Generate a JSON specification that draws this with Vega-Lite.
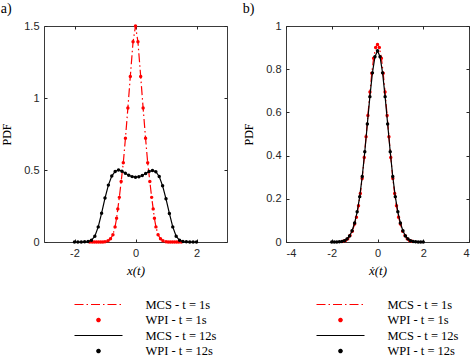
{
  "$schema": "https://vega.github.io/schema/vega-lite/v6.json",
  "padding": {"left": 0, "top": 1, "right": 2, "bottom": 0},
  "spacing": 14,
  "config": {
    "font": "Liberation Sans",
    "view": {"stroke": "#3a3a3a", "strokeWidth": 1},
    "axis": {"grid": false, "domain": false, "labelFont": "Liberation Sans", "labelFontSize": 11, "labelColor": "#262626", "tickColor": "#262626", "tickSize": -3, "labelPadding": 8, "titleFont": "Liberation Serif", "titleFontWeight": "normal", "titleFontSize": 12, "titleColor": "#000"},
    "axisX": {"titleFontStyle": "italic", "titleFontSize": 13, "titlePadding": 6},
    "axisY": {"titlePadding": 10},
    "title": {"font": "Liberation Serif", "fontSize": 14, "fontWeight": "normal", "anchor": "start", "frame": "bounds", "offset": 4, "color": "#000"},
    "legend": {"title": null, "orient": "none", "legendX": 30, "legendY": 271.5, "direction": "vertical", "symbolSize": 144, "symbolOffset": 17.5, "labelOffset": 40, "rowPadding": 1.5, "padding": 0, "labelFont": "Liberation Serif", "labelFontSize": 12.5, "labelColor": "#000", "symbolStrokeWidth": 1.2}
  },
  "datasets": {
    "a": [
      {"series": "MCS - t = 1s", "x": -1.5, "y": 0}, {"series": "MCS - t = 1s", "x": -1.42, "y": 0}, {"series": "MCS - t = 1s", "x": -1.35, "y": 0}, {"series": "MCS - t = 1s", "x": -1.28, "y": 0}, {"series": "MCS - t = 1s", "x": -1.21, "y": 0}, {"series": "MCS - t = 1s", "x": -1.14, "y": 0}, {"series": "MCS - t = 1s", "x": -1.07, "y": 0}, {"series": "MCS - t = 1s", "x": -1.0, "y": 0.002}, {"series": "MCS - t = 1s", "x": -0.9, "y": 0.008}, {"series": "MCS - t = 1s", "x": -0.82, "y": 0.022}, {"series": "MCS - t = 1s", "x": -0.74, "y": 0.05}, {"series": "MCS - t = 1s", "x": -0.67, "y": 0.105}, {"series": "MCS - t = 1s", "x": -0.62, "y": 0.165}, {"series": "MCS - t = 1s", "x": -0.58, "y": 0.23}, {"series": "MCS - t = 1s", "x": -0.53, "y": 0.31}, {"series": "MCS - t = 1s", "x": -0.47, "y": 0.42}, {"series": "MCS - t = 1s", "x": -0.4, "y": 0.55}, {"series": "MCS - t = 1s", "x": -0.33, "y": 0.72}, {"series": "MCS - t = 1s", "x": -0.25, "y": 0.93}, {"series": "MCS - t = 1s", "x": -0.17, "y": 1.15}, {"series": "MCS - t = 1s", "x": -0.08, "y": 1.39}, {"series": "MCS - t = 1s", "x": 0, "y": 1.5}, {"series": "MCS - t = 1s", "x": 0.08, "y": 1.39}, {"series": "MCS - t = 1s", "x": 0.17, "y": 1.15}, {"series": "MCS - t = 1s", "x": 0.25, "y": 0.93}, {"series": "MCS - t = 1s", "x": 0.33, "y": 0.72}, {"series": "MCS - t = 1s", "x": 0.4, "y": 0.55}, {"series": "MCS - t = 1s", "x": 0.47, "y": 0.42}, {"series": "MCS - t = 1s", "x": 0.53, "y": 0.31}, {"series": "MCS - t = 1s", "x": 0.58, "y": 0.23}, {"series": "MCS - t = 1s", "x": 0.62, "y": 0.165}, {"series": "MCS - t = 1s", "x": 0.67, "y": 0.105}, {"series": "MCS - t = 1s", "x": 0.74, "y": 0.05}, {"series": "MCS - t = 1s", "x": 0.82, "y": 0.022}, {"series": "MCS - t = 1s", "x": 0.9, "y": 0.008}, {"series": "MCS - t = 1s", "x": 1.0, "y": 0.002}, {"series": "MCS - t = 1s", "x": 1.07, "y": 0}, {"series": "MCS - t = 1s", "x": 1.14, "y": 0}, {"series": "MCS - t = 1s", "x": 1.21, "y": 0}, {"series": "MCS - t = 1s", "x": 1.28, "y": 0}, {"series": "MCS - t = 1s", "x": 1.35, "y": 0}, {"series": "MCS - t = 1s", "x": 1.42, "y": 0}, {"series": "MCS - t = 1s", "x": 1.5, "y": 0},
      {"series": "WPI - t = 1s", "x": -1.5, "y": 0}, {"series": "WPI - t = 1s", "x": -1.42, "y": 0}, {"series": "WPI - t = 1s", "x": -1.35, "y": 0}, {"series": "WPI - t = 1s", "x": -1.28, "y": 0}, {"series": "WPI - t = 1s", "x": -1.21, "y": 0}, {"series": "WPI - t = 1s", "x": -1.14, "y": 0}, {"series": "WPI - t = 1s", "x": -1.07, "y": 0}, {"series": "WPI - t = 1s", "x": -1.0, "y": 0.002}, {"series": "WPI - t = 1s", "x": -0.9, "y": 0.008}, {"series": "WPI - t = 1s", "x": -0.82, "y": 0.022}, {"series": "WPI - t = 1s", "x": -0.74, "y": 0.05}, {"series": "WPI - t = 1s", "x": -0.67, "y": 0.105}, {"series": "WPI - t = 1s", "x": -0.62, "y": 0.165}, {"series": "WPI - t = 1s", "x": -0.58, "y": 0.23}, {"series": "WPI - t = 1s", "x": -0.53, "y": 0.31}, {"series": "WPI - t = 1s", "x": -0.47, "y": 0.42}, {"series": "WPI - t = 1s", "x": -0.4, "y": 0.55}, {"series": "WPI - t = 1s", "x": -0.33, "y": 0.72}, {"series": "WPI - t = 1s", "x": -0.25, "y": 0.93}, {"series": "WPI - t = 1s", "x": -0.17, "y": 1.15}, {"series": "WPI - t = 1s", "x": -0.08, "y": 1.39}, {"series": "WPI - t = 1s", "x": 0, "y": 1.5}, {"series": "WPI - t = 1s", "x": 0.08, "y": 1.39}, {"series": "WPI - t = 1s", "x": 0.17, "y": 1.15}, {"series": "WPI - t = 1s", "x": 0.25, "y": 0.93}, {"series": "WPI - t = 1s", "x": 0.33, "y": 0.72}, {"series": "WPI - t = 1s", "x": 0.4, "y": 0.55}, {"series": "WPI - t = 1s", "x": 0.47, "y": 0.42}, {"series": "WPI - t = 1s", "x": 0.53, "y": 0.31}, {"series": "WPI - t = 1s", "x": 0.58, "y": 0.23}, {"series": "WPI - t = 1s", "x": 0.62, "y": 0.165}, {"series": "WPI - t = 1s", "x": 0.67, "y": 0.105}, {"series": "WPI - t = 1s", "x": 0.74, "y": 0.05}, {"series": "WPI - t = 1s", "x": 0.82, "y": 0.022}, {"series": "WPI - t = 1s", "x": 0.9, "y": 0.008}, {"series": "WPI - t = 1s", "x": 1.0, "y": 0.002}, {"series": "WPI - t = 1s", "x": 1.07, "y": 0}, {"series": "WPI - t = 1s", "x": 1.14, "y": 0}, {"series": "WPI - t = 1s", "x": 1.21, "y": 0}, {"series": "WPI - t = 1s", "x": 1.28, "y": 0}, {"series": "WPI - t = 1s", "x": 1.35, "y": 0}, {"series": "WPI - t = 1s", "x": 1.42, "y": 0}, {"series": "WPI - t = 1s", "x": 1.5, "y": 0},
      {"series": "MCS - t = 12s", "x": -2, "y": 0}, {"series": "MCS - t = 12s", "x": -1.889, "y": 0}, {"series": "MCS - t = 12s", "x": -1.778, "y": 0}, {"series": "MCS - t = 12s", "x": -1.667, "y": 0.001}, {"series": "MCS - t = 12s", "x": -1.556, "y": 0.003}, {"series": "MCS - t = 12s", "x": -1.444, "y": 0.012}, {"series": "MCS - t = 12s", "x": -1.333, "y": 0.04}, {"series": "MCS - t = 12s", "x": -1.222, "y": 0.105}, {"series": "MCS - t = 12s", "x": -1.111, "y": 0.2}, {"series": "MCS - t = 12s", "x": -1.0, "y": 0.305}, {"series": "MCS - t = 12s", "x": -0.889, "y": 0.395}, {"series": "MCS - t = 12s", "x": -0.778, "y": 0.458}, {"series": "MCS - t = 12s", "x": -0.667, "y": 0.49}, {"series": "MCS - t = 12s", "x": -0.556, "y": 0.5}, {"series": "MCS - t = 12s", "x": -0.444, "y": 0.492}, {"series": "MCS - t = 12s", "x": -0.333, "y": 0.477}, {"series": "MCS - t = 12s", "x": -0.222, "y": 0.463}, {"series": "MCS - t = 12s", "x": -0.111, "y": 0.454}, {"series": "MCS - t = 12s", "x": 0, "y": 0.45}, {"series": "MCS - t = 12s", "x": 0.111, "y": 0.453}, {"series": "MCS - t = 12s", "x": 0.222, "y": 0.462}, {"series": "MCS - t = 12s", "x": 0.333, "y": 0.476}, {"series": "MCS - t = 12s", "x": 0.444, "y": 0.49}, {"series": "MCS - t = 12s", "x": 0.556, "y": 0.497}, {"series": "MCS - t = 12s", "x": 0.667, "y": 0.488}, {"series": "MCS - t = 12s", "x": 0.778, "y": 0.455}, {"series": "MCS - t = 12s", "x": 0.889, "y": 0.39}, {"series": "MCS - t = 12s", "x": 1.0, "y": 0.3}, {"series": "MCS - t = 12s", "x": 1.111, "y": 0.198}, {"series": "MCS - t = 12s", "x": 1.222, "y": 0.105}, {"series": "MCS - t = 12s", "x": 1.333, "y": 0.04}, {"series": "MCS - t = 12s", "x": 1.444, "y": 0.012}, {"series": "MCS - t = 12s", "x": 1.556, "y": 0.003}, {"series": "MCS - t = 12s", "x": 1.667, "y": 0.001}, {"series": "MCS - t = 12s", "x": 1.778, "y": 0}, {"series": "MCS - t = 12s", "x": 1.889, "y": 0}, {"series": "MCS - t = 12s", "x": 2, "y": 0},
      {"series": "WPI - t = 12s", "x": -2, "y": 0}, {"series": "WPI - t = 12s", "x": -1.889, "y": 0}, {"series": "WPI - t = 12s", "x": -1.778, "y": 0}, {"series": "WPI - t = 12s", "x": -1.667, "y": 0.001}, {"series": "WPI - t = 12s", "x": -1.556, "y": 0.003}, {"series": "WPI - t = 12s", "x": -1.444, "y": 0.012}, {"series": "WPI - t = 12s", "x": -1.333, "y": 0.04}, {"series": "WPI - t = 12s", "x": -1.222, "y": 0.105}, {"series": "WPI - t = 12s", "x": -1.111, "y": 0.2}, {"series": "WPI - t = 12s", "x": -1.0, "y": 0.305}, {"series": "WPI - t = 12s", "x": -0.889, "y": 0.395}, {"series": "WPI - t = 12s", "x": -0.778, "y": 0.458}, {"series": "WPI - t = 12s", "x": -0.667, "y": 0.49}, {"series": "WPI - t = 12s", "x": -0.556, "y": 0.5}, {"series": "WPI - t = 12s", "x": -0.444, "y": 0.492}, {"series": "WPI - t = 12s", "x": -0.333, "y": 0.477}, {"series": "WPI - t = 12s", "x": -0.222, "y": 0.463}, {"series": "WPI - t = 12s", "x": -0.111, "y": 0.454}, {"series": "WPI - t = 12s", "x": 0, "y": 0.45}, {"series": "WPI - t = 12s", "x": 0.111, "y": 0.453}, {"series": "WPI - t = 12s", "x": 0.222, "y": 0.462}, {"series": "WPI - t = 12s", "x": 0.333, "y": 0.476}, {"series": "WPI - t = 12s", "x": 0.444, "y": 0.49}, {"series": "WPI - t = 12s", "x": 0.556, "y": 0.497}, {"series": "WPI - t = 12s", "x": 0.667, "y": 0.488}, {"series": "WPI - t = 12s", "x": 0.778, "y": 0.455}, {"series": "WPI - t = 12s", "x": 0.889, "y": 0.39}, {"series": "WPI - t = 12s", "x": 1.0, "y": 0.3}, {"series": "WPI - t = 12s", "x": 1.111, "y": 0.198}, {"series": "WPI - t = 12s", "x": 1.222, "y": 0.105}, {"series": "WPI - t = 12s", "x": 1.333, "y": 0.04}, {"series": "WPI - t = 12s", "x": 1.444, "y": 0.012}, {"series": "WPI - t = 12s", "x": 1.556, "y": 0.003}, {"series": "WPI - t = 12s", "x": 1.667, "y": 0.001}, {"series": "WPI - t = 12s", "x": 1.778, "y": 0}, {"series": "WPI - t = 12s", "x": 1.889, "y": 0}, {"series": "WPI - t = 12s", "x": 2, "y": 0}
    ],
    "b": [
      {"series": "MCS - t = 1s", "x": -1.5, "y": 0.003}, {"series": "MCS - t = 1s", "x": -1.4, "y": 0.007}, {"series": "MCS - t = 1s", "x": -1.3, "y": 0.015}, {"series": "MCS - t = 1s", "x": -1.2, "y": 0.03}, {"series": "MCS - t = 1s", "x": -1.1, "y": 0.05}, {"series": "MCS - t = 1s", "x": -1.0, "y": 0.083}, {"series": "MCS - t = 1s", "x": -0.92, "y": 0.115}, {"series": "MCS - t = 1s", "x": -0.83, "y": 0.168}, {"series": "MCS - t = 1s", "x": -0.75, "y": 0.225}, {"series": "MCS - t = 1s", "x": -0.67, "y": 0.294}, {"series": "MCS - t = 1s", "x": -0.58, "y": 0.391}, {"series": "MCS - t = 1s", "x": -0.5, "y": 0.487}, {"series": "MCS - t = 1s", "x": -0.42, "y": 0.586}, {"series": "MCS - t = 1s", "x": -0.33, "y": 0.695}, {"series": "MCS - t = 1s", "x": -0.25, "y": 0.781}, {"series": "MCS - t = 1s", "x": -0.17, "y": 0.851}, {"series": "MCS - t = 1s", "x": -0.08, "y": 0.9}, {"series": "MCS - t = 1s", "x": 0, "y": 0.915}, {"series": "MCS - t = 1s", "x": 0.08, "y": 0.9}, {"series": "MCS - t = 1s", "x": 0.17, "y": 0.851}, {"series": "MCS - t = 1s", "x": 0.25, "y": 0.781}, {"series": "MCS - t = 1s", "x": 0.33, "y": 0.695}, {"series": "MCS - t = 1s", "x": 0.42, "y": 0.586}, {"series": "MCS - t = 1s", "x": 0.5, "y": 0.487}, {"series": "MCS - t = 1s", "x": 0.58, "y": 0.391}, {"series": "MCS - t = 1s", "x": 0.67, "y": 0.294}, {"series": "MCS - t = 1s", "x": 0.75, "y": 0.225}, {"series": "MCS - t = 1s", "x": 0.83, "y": 0.168}, {"series": "MCS - t = 1s", "x": 0.92, "y": 0.115}, {"series": "MCS - t = 1s", "x": 1.0, "y": 0.083}, {"series": "MCS - t = 1s", "x": 1.1, "y": 0.05}, {"series": "MCS - t = 1s", "x": 1.2, "y": 0.03}, {"series": "MCS - t = 1s", "x": 1.3, "y": 0.015}, {"series": "MCS - t = 1s", "x": 1.4, "y": 0.007}, {"series": "MCS - t = 1s", "x": 1.5, "y": 0.003},
      {"series": "WPI - t = 1s", "x": -1.5, "y": 0.003}, {"series": "WPI - t = 1s", "x": -1.4, "y": 0.007}, {"series": "WPI - t = 1s", "x": -1.3, "y": 0.015}, {"series": "WPI - t = 1s", "x": -1.2, "y": 0.03}, {"series": "WPI - t = 1s", "x": -1.1, "y": 0.05}, {"series": "WPI - t = 1s", "x": -1.0, "y": 0.083}, {"series": "WPI - t = 1s", "x": -0.92, "y": 0.115}, {"series": "WPI - t = 1s", "x": -0.83, "y": 0.168}, {"series": "WPI - t = 1s", "x": -0.75, "y": 0.225}, {"series": "WPI - t = 1s", "x": -0.67, "y": 0.294}, {"series": "WPI - t = 1s", "x": -0.58, "y": 0.391}, {"series": "WPI - t = 1s", "x": -0.5, "y": 0.487}, {"series": "WPI - t = 1s", "x": -0.42, "y": 0.586}, {"series": "WPI - t = 1s", "x": -0.33, "y": 0.695}, {"series": "WPI - t = 1s", "x": -0.25, "y": 0.781}, {"series": "WPI - t = 1s", "x": -0.17, "y": 0.851}, {"series": "WPI - t = 1s", "x": -0.08, "y": 0.9}, {"series": "WPI - t = 1s", "x": 0, "y": 0.915}, {"series": "WPI - t = 1s", "x": 0.08, "y": 0.9}, {"series": "WPI - t = 1s", "x": 0.17, "y": 0.851}, {"series": "WPI - t = 1s", "x": 0.25, "y": 0.781}, {"series": "WPI - t = 1s", "x": 0.33, "y": 0.695}, {"series": "WPI - t = 1s", "x": 0.42, "y": 0.586}, {"series": "WPI - t = 1s", "x": 0.5, "y": 0.487}, {"series": "WPI - t = 1s", "x": 0.58, "y": 0.391}, {"series": "WPI - t = 1s", "x": 0.67, "y": 0.294}, {"series": "WPI - t = 1s", "x": 0.75, "y": 0.225}, {"series": "WPI - t = 1s", "x": 0.83, "y": 0.168}, {"series": "WPI - t = 1s", "x": 0.92, "y": 0.115}, {"series": "WPI - t = 1s", "x": 1.0, "y": 0.083}, {"series": "WPI - t = 1s", "x": 1.1, "y": 0.05}, {"series": "WPI - t = 1s", "x": 1.2, "y": 0.03}, {"series": "WPI - t = 1s", "x": 1.3, "y": 0.015}, {"series": "WPI - t = 1s", "x": 1.4, "y": 0.007}, {"series": "WPI - t = 1s", "x": 1.5, "y": 0.003},
      {"series": "MCS - t = 12s", "x": -2, "y": 0}, {"series": "MCS - t = 12s", "x": -1.889, "y": 0}, {"series": "MCS - t = 12s", "x": -1.778, "y": 0}, {"series": "MCS - t = 12s", "x": -1.667, "y": 0.001}, {"series": "MCS - t = 12s", "x": -1.556, "y": 0.002}, {"series": "MCS - t = 12s", "x": -1.444, "y": 0.006}, {"series": "MCS - t = 12s", "x": -1.333, "y": 0.014}, {"series": "MCS - t = 12s", "x": -1.222, "y": 0.028}, {"series": "MCS - t = 12s", "x": -1.111, "y": 0.052}, {"series": "MCS - t = 12s", "x": -1.0, "y": 0.088}, {"series": "MCS - t = 12s", "x": -0.889, "y": 0.14}, {"series": "MCS - t = 12s", "x": -0.778, "y": 0.21}, {"series": "MCS - t = 12s", "x": -0.667, "y": 0.303}, {"series": "MCS - t = 12s", "x": -0.556, "y": 0.418}, {"series": "MCS - t = 12s", "x": -0.444, "y": 0.546}, {"series": "MCS - t = 12s", "x": -0.333, "y": 0.673}, {"series": "MCS - t = 12s", "x": -0.222, "y": 0.783}, {"series": "MCS - t = 12s", "x": -0.111, "y": 0.858}, {"series": "MCS - t = 12s", "x": 0, "y": 0.885}, {"series": "MCS - t = 12s", "x": 0.111, "y": 0.858}, {"series": "MCS - t = 12s", "x": 0.222, "y": 0.783}, {"series": "MCS - t = 12s", "x": 0.333, "y": 0.673}, {"series": "MCS - t = 12s", "x": 0.444, "y": 0.546}, {"series": "MCS - t = 12s", "x": 0.556, "y": 0.418}, {"series": "MCS - t = 12s", "x": 0.667, "y": 0.303}, {"series": "MCS - t = 12s", "x": 0.778, "y": 0.21}, {"series": "MCS - t = 12s", "x": 0.889, "y": 0.14}, {"series": "MCS - t = 12s", "x": 1.0, "y": 0.088}, {"series": "MCS - t = 12s", "x": 1.111, "y": 0.052}, {"series": "MCS - t = 12s", "x": 1.222, "y": 0.028}, {"series": "MCS - t = 12s", "x": 1.333, "y": 0.014}, {"series": "MCS - t = 12s", "x": 1.444, "y": 0.006}, {"series": "MCS - t = 12s", "x": 1.556, "y": 0.002}, {"series": "MCS - t = 12s", "x": 1.667, "y": 0.001}, {"series": "MCS - t = 12s", "x": 1.778, "y": 0}, {"series": "MCS - t = 12s", "x": 1.889, "y": 0}, {"series": "MCS - t = 12s", "x": 2, "y": 0},
      {"series": "WPI - t = 12s", "x": -2, "y": 0}, {"series": "WPI - t = 12s", "x": -1.889, "y": 0}, {"series": "WPI - t = 12s", "x": -1.778, "y": 0}, {"series": "WPI - t = 12s", "x": -1.667, "y": 0.001}, {"series": "WPI - t = 12s", "x": -1.556, "y": 0.002}, {"series": "WPI - t = 12s", "x": -1.444, "y": 0.006}, {"series": "WPI - t = 12s", "x": -1.333, "y": 0.014}, {"series": "WPI - t = 12s", "x": -1.222, "y": 0.028}, {"series": "WPI - t = 12s", "x": -1.111, "y": 0.052}, {"series": "WPI - t = 12s", "x": -1.0, "y": 0.088}, {"series": "WPI - t = 12s", "x": -0.889, "y": 0.14}, {"series": "WPI - t = 12s", "x": -0.778, "y": 0.21}, {"series": "WPI - t = 12s", "x": -0.667, "y": 0.303}, {"series": "WPI - t = 12s", "x": -0.556, "y": 0.418}, {"series": "WPI - t = 12s", "x": -0.444, "y": 0.546}, {"series": "WPI - t = 12s", "x": -0.333, "y": 0.673}, {"series": "WPI - t = 12s", "x": -0.222, "y": 0.783}, {"series": "WPI - t = 12s", "x": -0.111, "y": 0.858}, {"series": "WPI - t = 12s", "x": 0, "y": 0.885}, {"series": "WPI - t = 12s", "x": 0.111, "y": 0.858}, {"series": "WPI - t = 12s", "x": 0.222, "y": 0.783}, {"series": "WPI - t = 12s", "x": 0.333, "y": 0.673}, {"series": "WPI - t = 12s", "x": 0.444, "y": 0.546}, {"series": "WPI - t = 12s", "x": 0.556, "y": 0.418}, {"series": "WPI - t = 12s", "x": 0.667, "y": 0.303}, {"series": "WPI - t = 12s", "x": 0.778, "y": 0.21}, {"series": "WPI - t = 12s", "x": 0.889, "y": 0.14}, {"series": "WPI - t = 12s", "x": 1.0, "y": 0.088}, {"series": "WPI - t = 12s", "x": 1.111, "y": 0.052}, {"series": "WPI - t = 12s", "x": 1.222, "y": 0.028}, {"series": "WPI - t = 12s", "x": 1.333, "y": 0.014}, {"series": "WPI - t = 12s", "x": 1.444, "y": 0.006}, {"series": "WPI - t = 12s", "x": 1.556, "y": 0.002}, {"series": "WPI - t = 12s", "x": 1.667, "y": 0.001}, {"series": "WPI - t = 12s", "x": 1.778, "y": 0}, {"series": "WPI - t = 12s", "x": 1.889, "y": 0}, {"series": "WPI - t = 12s", "x": 2, "y": 0}
    ]
  },
  "resolve": {"scale": {"color": "independent"}, "legend": {"color": "independent"}},
  "hconcat": [
    {
      "title": {"text": "a)"},
      "width": 183, "height": 216,
      "data": {"name": "a"},
      "resolve": {"scale": {"x": "independent", "y": "independent"}},
      "layer": [
        {
          "encoding": {
            "x": {"field": "x", "type": "quantitative", "scale": {"domain": [-3, 3], "nice": false, "zero": false}, "axis": {"values": [-2, 0, 2], "labelExpr": "'' + datum.value", "title": "x(t)"}},
            "y": {"field": "y", "type": "quantitative", "scale": {"domain": [0, 1.5], "nice": false}, "axis": {"values": [0, 0.5, 1, 1.5], "labelExpr": "'' + datum.value", "title": "PDF"}},
            "color": {"field": "series", "type": "nominal", "scale": {"domain": ["MCS - t = 1s", "WPI - t = 1s", "MCS - t = 12s", "WPI - t = 12s"], "range": ["#ff0000", "#ff0000", "#000000", "#000000"]},
              "legend": {"encode": {"symbols": {"update": {
                "shape": {"signal": "indexof(datum.value, 'MCS') === 0 ? 'M-4,0H4' : 'M0.28,0A0.28,0.28,0,1,1,-0.28,0A0.28,0.28,0,1,1,0.28,0Z'"},
                "fill": {"signal": "indexof(datum.value, 'MCS') === 0 ? 'transparent' : (indexof(datum.value, '12s') > 0 ? '#000000' : '#ff0000')"},
                "stroke": {"signal": "indexof(datum.value, 'MCS') === 0 ? (indexof(datum.value, '12s') > 0 ? '#000000' : '#ff0000') : 'transparent'"},
                "strokeDash": {"signal": "datum.value === 'MCS - t = 1s' ? [9, 3, 1.5, 3] : [1, 0]"},
                "opacity": {"value": 1}
              }}}}}
          },
          "layer": [
            {"transform": [{"filter": "datum.series === 'MCS - t = 1s'"}], "mark": {"type": "line", "strokeDash": [9, 3, 1.5, 3], "strokeWidth": 1.2}},
            {"transform": [{"filter": "datum.series === 'WPI - t = 1s'"}], "mark": {"type": "point", "filled": true, "size": 12, "opacity": 1, "strokeWidth": 0}},
            {"transform": [{"filter": "datum.series === 'MCS - t = 12s'"}], "mark": {"type": "line", "strokeWidth": 1.2}},
            {"transform": [{"filter": "datum.series === 'WPI - t = 12s'"}], "mark": {"type": "point", "filled": true, "size": 12, "opacity": 1, "strokeWidth": 0}}
          ]
        },
        {
          "mark": {"type": "point", "opacity": 0},
          "encoding": {
            "x": {"field": "x", "type": "quantitative", "scale": {"domain": [-3, 3], "nice": false, "zero": false}, "axis": {"orient": "top", "values": [-2, 0, 2], "labels": false, "title": null}},
            "y": {"field": "y", "type": "quantitative", "scale": {"domain": [0, 1.5], "nice": false}, "axis": {"orient": "right", "values": [0, 0.5, 1, 1.5], "labels": false, "title": null}}
          }
        }
      ]
    },
    {
      "title": {"text": "b)"},
      "width": 183, "height": 216,
      "data": {"name": "b"},
      "resolve": {"scale": {"x": "independent", "y": "independent"}},
      "layer": [
        {
          "encoding": {
            "x": {"field": "x", "type": "quantitative", "scale": {"domain": [-4, 4], "nice": false, "zero": false}, "axis": {"values": [-4, -2, 0, 2, 4], "labelExpr": "'' + datum.value", "title": "ẋ(t)"}},
            "y": {"field": "y", "type": "quantitative", "scale": {"domain": [0, 1], "nice": false}, "axis": {"values": [0, 0.2, 0.4, 0.6, 0.8, 1], "labelExpr": "'' + datum.value", "title": "PDF"}},
            "color": {"field": "series", "type": "nominal", "scale": {"domain": ["MCS - t = 1s", "WPI - t = 1s", "MCS - t = 12s", "WPI - t = 12s"], "range": ["#ff0000", "#ff0000", "#000000", "#000000"]},
              "legend": {"encode": {"symbols": {"update": {
                "shape": {"signal": "indexof(datum.value, 'MCS') === 0 ? 'M-4,0H4' : 'M0.28,0A0.28,0.28,0,1,1,-0.28,0A0.28,0.28,0,1,1,0.28,0Z'"},
                "fill": {"signal": "indexof(datum.value, 'MCS') === 0 ? 'transparent' : (indexof(datum.value, '12s') > 0 ? '#000000' : '#ff0000')"},
                "stroke": {"signal": "indexof(datum.value, 'MCS') === 0 ? (indexof(datum.value, '12s') > 0 ? '#000000' : '#ff0000') : 'transparent'"},
                "strokeDash": {"signal": "datum.value === 'MCS - t = 1s' ? [9, 3, 1.5, 3] : [1, 0]"},
                "opacity": {"value": 1}
              }}}}}
          },
          "layer": [
            {"transform": [{"filter": "datum.series === 'MCS - t = 1s'"}], "mark": {"type": "line", "strokeDash": [9, 3, 1.5, 3], "strokeWidth": 1.2}},
            {"transform": [{"filter": "datum.series === 'WPI - t = 1s'"}], "mark": {"type": "point", "filled": true, "size": 12, "opacity": 1, "strokeWidth": 0}},
            {"transform": [{"filter": "datum.series === 'MCS - t = 12s'"}], "mark": {"type": "line", "strokeWidth": 1.2}},
            {"transform": [{"filter": "datum.series === 'WPI - t = 12s'"}], "mark": {"type": "point", "filled": true, "size": 12, "opacity": 1, "strokeWidth": 0}}
          ]
        },
        {
          "mark": {"type": "point", "opacity": 0},
          "encoding": {
            "x": {"field": "x", "type": "quantitative", "scale": {"domain": [-4, 4], "nice": false, "zero": false}, "axis": {"orient": "top", "values": [-4, -2, 0, 2, 4], "labels": false, "title": null}},
            "y": {"field": "y", "type": "quantitative", "scale": {"domain": [0, 1], "nice": false}, "axis": {"orient": "right", "values": [0, 0.2, 0.4, 0.6, 0.8, 1], "labels": false, "title": null}}
          }
        }
      ]
    }
  ]
}
